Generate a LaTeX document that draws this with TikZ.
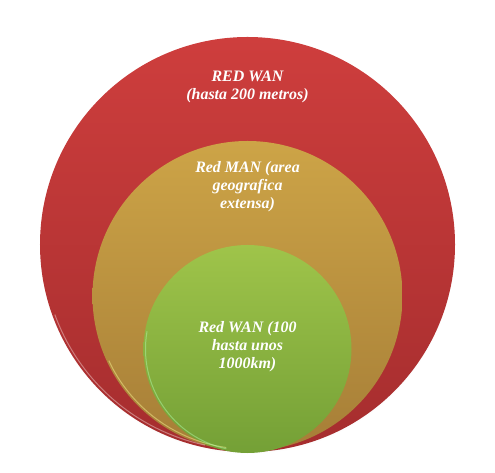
\documentclass[tikz,border=0pt]{standalone}
\usepackage{fontspec}
\setmainfont{Liberation Serif}
\usetikzlibrary{positioning,shadows}

\definecolor{wantop}{HTML}{CE3E3D}
\definecolor{wanbot}{HTML}{A52D2E}
\definecolor{mantop}{HTML}{CDA447}
\definecolor{manbot}{HTML}{A67E37}
\definecolor{lantop}{HTML}{9FC44A}
\definecolor{lanbot}{HTML}{74A036}

\begin{document}
\begin{tikzpicture}
    [
      x=1bp, y=1bp,
      ring/.style = {shape=circle, inner sep=0pt},
      rim/.style = {line width=1bp, opacity=0.45},
      ringtext/.style = {align=center, text=white, inner sep=0pt,
                         font=\fontsize{16}{18}\selectfont\bfseries\itshape}
    ]
    \useasboundingbox (0,0) rectangle (495,473);

    % the three circles, bottom up
    \node[ring, minimum size=415bp, top color=wantop, bottom color=wanbot,
          circular drop shadow={opacity=0.25, shadow xshift=0bp, shadow yshift=-2bp, shadow scale=1.0}]
      (wan) at (247.5,228.5) {};
    \node[ring, minimum size=310bp, top color=mantop, bottom color=manbot] (man) at (247.5,177) {};
    \node[ring, minimum size=208bp, top color=lantop, bottom color=lanbot] (lan) at (247.5,124) {};

    % light edges on the lower left
    \draw[rim, white!80!wantop] (wan.center) ++(200:205) arc[start angle=200, end angle=258, radius=205];
    \draw[rim, yellow!40!white] (man.center) ++(205:153) arc[start angle=205, end angle=262, radius=153];
    \draw[rim, green!30!white] (lan.center) ++(170:102) arc[start angle=170, end angle=258, radius=102];

    % texts
    \node[ringtext] (wantext) at ([yshift=-50bp]wan.north) {RED WAN\\(hasta 200 metros)};
    \node[ringtext] (mantext) at ([yshift=-46bp]man.north) {Red MAN (area\\geografica\\extensa)};
    \node[ringtext] (lantext) at ([yshift=-102bp]lan.north) {Red WAN (100\\hasta unos\\1000km)};
\end{tikzpicture}
\end{document}
